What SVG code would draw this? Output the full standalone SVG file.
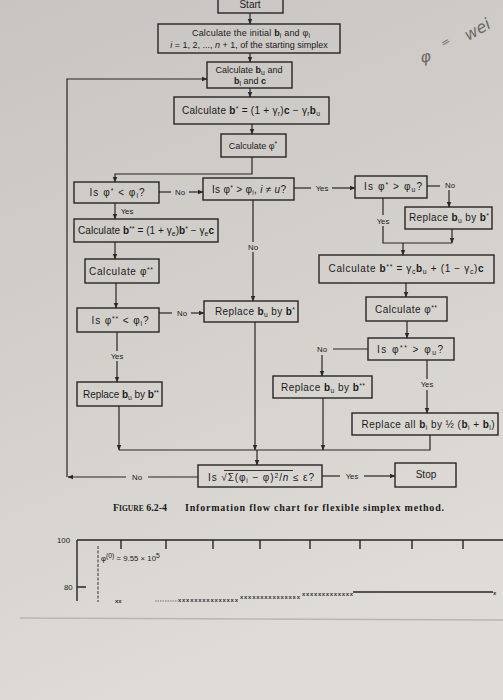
<svg xmlns="http://www.w3.org/2000/svg" width="503" height="700" viewBox="0 0 503 700">
<defs>
<linearGradient id="bg" x1="0" y1="0" x2="0.3" y2="1">
<stop offset="0" stop-color="#c8c4c1"/>
<stop offset="0.5" stop-color="#d3d0cc"/>
<stop offset="1" stop-color="#dfdcd8"/>
</linearGradient>
<marker id="ah" viewBox="0 0 10 10" refX="9" refY="5" markerWidth="6" markerHeight="6" orient="auto" markerUnits="userSpaceOnUse">
<path d="M0,1 L10,5 L0,9 z" fill="#2a2a2a"/>
</marker>
<style>
.box{fill:none;stroke:#262626;stroke-width:1.4}
.ln{fill:none;stroke:#262626;stroke-width:1.2}
.ar{fill:none;stroke:#262626;stroke-width:1.2;marker-end:url(#ah)}
.t{font-family:"Liberation Sans",Arial,sans-serif;font-size:10px;fill:#1a1a1a;text-anchor:middle}
.sm{font-size:9px}
.l{font-family:"Liberation Sans",Arial,sans-serif;font-size:7.8px;fill:#1a1a1a;text-anchor:middle}
.b{font-weight:bold}
.s{font-size:6.8px}
.i{font-style:italic}
.cap{font-family:"Liberation Serif","Times New Roman",serif;font-weight:bold;fill:#1a1a1a}
.ax{fill:none;stroke:#262626;stroke-width:1.4}
.pt{font-family:"Liberation Sans",Arial,sans-serif;font-size:6px;font-weight:bold;fill:#333}
.hw{font-family:"DejaVu Sans",sans-serif;fill:#6b6866;font-style:italic}
</style>
</defs>
<rect x="0" y="0" width="503" height="700" fill="url(#bg)"/>
<line x1="20" y1="618" x2="503" y2="620" stroke="#b9b6b2" stroke-width="1.5"/>

<g id="handwriting">
<text class="hw" x="420" y="62" font-size="16" transform="rotate(-10 427 55)">φ</text>
<text class="hw" x="441" y="45" font-size="11" transform="rotate(-30 447 42)">=</text>
<text class="hw" x="462" y="34" font-size="16" transform="rotate(-30 478 26)">wei</text>
</g>

<g id="connectors">
<path class="ar" d="M250 13 V24"/>
<path class="ar" d="M250 53 V62"/>
<path class="ar" d="M250 88 V97"/>
<path class="ar" d="M252 124 V134"/>
<path class="ar" d="M252 157 V174 H115 V182"/>
<path class="ln" d="M159 192 H171"/>
<path class="ar" d="M189 192 H203"/>
<path class="ln" d="M294 188 H311"/>
<path class="ar" d="M332 188 H355"/>
<path class="ln" d="M427 186 H440"/>
<path class="ar" d="M449 190 V207"/>
<path class="ln" d="M383 198 V215"/>
<path class="ln" d="M383 226 V243 H452"/>
<path class="ar" d="M452 229 V243"/>
<path class="ar" d="M403 243 V255"/>
<path class="ln" d="M253 200 V242"/>
<path class="ar" d="M253 252 V301"/>
<path class="ar" d="M115 203 V219"/>
<path class="ar" d="M115 242 V259"/>
<path class="ar" d="M116 283 V308"/>
<path class="ln" d="M159 313 H172"/>
<path class="ar" d="M191 313 H204"/>
<path class="ln" d="M117 332 V351"/>
<path class="ar" d="M117 361 V382"/>
<path class="ar" d="M119 406 V450"/>
<path class="ar" d="M255 322 V450"/>
<path class="ar" d="M323 398 V450"/>
<path class="ln" d="M430 435 V450 H119"/>
<path class="ar" d="M257 450 V465"/>
<path class="ar" d="M406 283 V297"/>
<path class="ar" d="M407 321 V338"/>
<path class="ln" d="M368 349 H333"/>
<path class="ar" d="M322 355 V376"/>
<path class="ln" d="M427 360 V379"/>
<path class="ar" d="M427 390 V413"/>
<path class="ln" d="M198 477 H148"/>
<path class="ar" d="M126 477 H68"/>
<path class="ar" d="M67 477 V79 H207"/>
<path class="ln" d="M322 476 H340"/>
<path class="ar" d="M364 476 H395"/>
<text class="l" x="180" y="195">No</text>
<text class="l" x="322" y="191">Yes</text>
<text class="l" x="450" y="188">No</text>
<text class="l" x="383" y="224">Yes</text>
<text class="l" x="253" y="250">No</text>
<text class="l" x="127" y="214">Yes</text>
<text class="l" x="182" y="316">No</text>
<text class="l" x="117" y="359">Yes</text>
<text class="l" x="322" y="352">No</text>
<text class="l" x="427" y="387">Yes</text>
<text class="l" x="137" y="480">No</text>
<text class="l" x="352" y="479">Yes</text>
</g>

<g id="n_start">
<rect class="box" x="218" y="-4" width="65" height="17"/>
<text class="t" x="250" y="8">Start</text>
</g>
<g id="n_init">
<rect class="box" x="158" y="24" width="182" height="29"/>
<text class="t sm" x="251" y="36" textLength="118">Calculate the initial <tspan class="b">b</tspan><tspan class="s" dy="2">i</tspan><tspan dy="-2"> and φ</tspan><tspan class="s" dy="2">i</tspan></text>
<text class="t sm" x="249" y="48"><tspan class="i">i</tspan> = 1, 2, ..., <tspan class="i">n</tspan> + 1, of the starting simplex</text>
</g>
<g id="n_bu">
<rect class="box" x="207" y="62" width="85" height="26"/>
<text class="t sm" x="249" y="73">Calculate <tspan class="b">b</tspan><tspan class="s" dy="2">u</tspan><tspan dy="-2"> and</tspan></text>
<text class="t sm" x="250" y="84"><tspan class="b">b</tspan><tspan class="s" dy="2">l</tspan><tspan dy="-2"> and </tspan><tspan class="b">c</tspan></text>
</g>
<g id="n_bstar">
<rect class="box" x="174" y="97" width="155" height="27"/>
<text class="t" x="251" y="114" textLength="138">Calculate <tspan class="b">b</tspan><tspan class="s" dy="-3">*</tspan><tspan dy="3"> = (1 + γ</tspan><tspan class="s" dy="2">r</tspan><tspan dy="-2">)</tspan><tspan class="b">c</tspan><tspan> − γ</tspan><tspan class="s" dy="2">r</tspan><tspan class="b" dy="-2">b</tspan><tspan class="s" dy="2">u</tspan></text>
</g>
<g id="n_phistar">
<rect class="box" x="221" y="134" width="65" height="23"/>
<text class="t sm" x="253" y="149">Calculate φ<tspan class="s" dy="-3">*</tspan></text>
</g>
<g id="n_q1">
<rect class="box" x="74" y="182" width="85" height="21"/>
<text class="t" x="117" y="196" textLength="55">Is φ<tspan class="s" dy="-3">*</tspan><tspan dy="3"> &lt; φ</tspan><tspan class="s" dy="2">l</tspan><tspan dy="-2">?</tspan></text>
</g>
<g id="n_q2">
<rect class="box" x="203" y="178" width="91" height="22"/>
<text class="t" x="249" y="193" textLength="74">Is φ<tspan class="s" dy="-3">*</tspan><tspan dy="3"> &gt; φ</tspan><tspan class="s" dy="2">i</tspan><tspan dy="-2">, </tspan><tspan class="i">i</tspan> ≠ <tspan class="i">u</tspan>?</text>
</g>
<g id="n_q3">
<rect class="box" x="355" y="176" width="72" height="22"/>
<text class="t" x="393" y="190" textLength="58">Is φ<tspan class="s" dy="-3">*</tspan><tspan dy="3"> &gt; φ</tspan><tspan class="s" dy="2">u</tspan><tspan dy="-2">?</tspan></text>
</g>
<g id="n_rep1">
<rect class="box" x="405" y="207" width="87" height="22"/>
<text class="t" x="449" y="221" textLength="80">Replace <tspan class="b">b</tspan><tspan class="s" dy="2">u</tspan><tspan dy="-2"> by </tspan><tspan class="b">b</tspan><tspan class="s" dy="-3">*</tspan></text>
</g>
<g id="n_bexp">
<rect class="box" x="74" y="219" width="144" height="23"/>
<text class="t" x="146" y="234" textLength="136">Calculate <tspan class="b">b</tspan><tspan class="s" dy="-3">**</tspan><tspan dy="3"> = (1 + γ</tspan><tspan class="s" dy="2">e</tspan><tspan dy="-2">)</tspan><tspan class="b">b</tspan><tspan class="s" dy="-3">*</tspan><tspan dy="3"> − γ</tspan><tspan class="s" dy="2">e</tspan><tspan class="b" dy="-2">c</tspan></text>
</g>
<g id="n_bcon">
<rect class="box" x="319" y="255" width="175" height="28"/>
<text class="t" x="406" y="272" textLength="155">Calculate <tspan class="b">b</tspan><tspan class="s" dy="-3">**</tspan><tspan dy="3"> = γ</tspan><tspan class="s" dy="2">c</tspan><tspan class="b" dy="-2">b</tspan><tspan class="s" dy="2">u</tspan><tspan dy="-2"> + (1 − γ</tspan><tspan class="s" dy="2">c</tspan><tspan dy="-2">)</tspan><tspan class="b">c</tspan></text>
</g>
<g id="n_phi2l">
<rect class="box" x="85" y="259" width="74" height="24"/>
<text class="t" x="121" y="275" textLength="64">Calculate φ<tspan class="s" dy="-3">**</tspan></text>
</g>
<g id="n_phi2r">
<rect class="box" x="366" y="297" width="81" height="24"/>
<text class="t" x="406" y="313" textLength="62">Calculate φ<tspan class="s" dy="-3">**</tspan></text>
</g>
<g id="n_q4">
<rect class="box" x="77" y="308" width="82" height="24"/>
<text class="t" x="120" y="324" textLength="57">Is φ<tspan class="s" dy="-3">**</tspan><tspan dy="3"> &lt; φ</tspan><tspan class="s" dy="2">l</tspan><tspan dy="-2">?</tspan></text>
</g>
<g id="n_rep2">
<rect class="box" x="204" y="301" width="94" height="21"/>
<text class="t" x="255" y="315" textLength="80">Replace <tspan class="b">b</tspan><tspan class="s" dy="2">u</tspan><tspan dy="-2"> by </tspan><tspan class="b">b</tspan><tspan class="s" dy="-3">*</tspan></text>
</g>
<g id="n_q5">
<rect class="box" x="368" y="338" width="86" height="22"/>
<text class="t" x="410" y="353" textLength="66">Is φ<tspan class="s" dy="-3">**</tspan><tspan dy="3"> &gt; φ</tspan><tspan class="s" dy="2">u</tspan><tspan dy="-2">?</tspan></text>
</g>
<g id="n_rep3">
<rect class="box" x="77" y="382" width="85" height="24"/>
<text class="t" x="121" y="398" textLength="76">Replace <tspan class="b">b</tspan><tspan class="s" dy="2">u</tspan><tspan dy="-2"> by </tspan><tspan class="b">b</tspan><tspan class="s" dy="-3">**</tspan></text>
</g>
<g id="n_rep4">
<rect class="box" x="273" y="376" width="99" height="22"/>
<text class="t" x="323" y="391" textLength="84">Replace <tspan class="b">b</tspan><tspan class="s" dy="2">u</tspan><tspan dy="-2"> by </tspan><tspan class="b">b</tspan><tspan class="s" dy="-3">**</tspan></text>
</g>
<g id="n_shrink">
<rect class="box" x="352" y="413" width="146" height="22"/>
<text class="t" x="428" y="428" textLength="133">Replace all <tspan class="b">b</tspan><tspan class="s" dy="2">i</tspan><tspan dy="-2"> by ½ (</tspan><tspan class="b">b</tspan><tspan class="s" dy="2">i</tspan><tspan dy="-2"> + </tspan><tspan class="b">b</tspan><tspan class="s" dy="2">l</tspan><tspan dy="-2">)</tspan></text>
</g>
<g id="n_conv">
<rect class="box" x="198" y="465" width="124" height="22"/>
<text class="t" x="261" y="481" textLength="106">Is √Σ(φ<tspan class="s" dy="2">i</tspan><tspan dy="-2"> − φ)</tspan><tspan class="s" dy="-3">2</tspan><tspan dy="3">/</tspan><tspan class="i">n</tspan> ≤ ε?</text>
<line x1="224" y1="470.5" x2="293" y2="470.5" stroke="#222" stroke-width="0.9"/>
</g>
<g id="n_stop">
<rect class="box" x="395" y="463" width="61" height="24"/>
<text class="t" x="426" y="478">Stop</text>
</g>

<g id="caption">
<text class="cap" x="113" y="511" font-size="10">F<tspan font-size="7.5">IGURE</tspan> 6.2-4</text>
<text class="cap" x="185" y="511" font-size="10" textLength="259">Information flow chart for flexible simplex method.</text>
</g>

<g id="graph">
<path class="ax" d="M77 540 H503 M77 540 V601 M77 587 H86"/>
<path class="ax" d="M121 540 V549 M166 540 V549 M213 540 V549 M260 540 V549 M310 540 V549 M360 540 V549 M412 540 V549 M463 540 V549"/>
<line x1="98" y1="546" x2="98" y2="602" stroke="#333" stroke-width="1" stroke-dasharray="3,1.5"/>
<text class="l" x="57" y="543" style="text-anchor:start">100</text>
<text class="l" x="64" y="590" style="text-anchor:start">80</text>
<text class="l" x="101" y="561" style="text-anchor:start">φ<tspan class="s" dy="-3">(0)</tspan><tspan dy="3"> = 9.55 × 10</tspan><tspan class="s" dy="-3">5</tspan></text>
<text class="pt" x="115" y="603">xx</text>
<line x1="155" y1="601" x2="178" y2="601" stroke="#555" stroke-width="0.8" stroke-dasharray="1.5,1"/>
<text class="pt" x="178" y="602" textLength="60">xxxxxxxxxxxxxxx</text>
<text class="pt" x="240" y="599" textLength="60">xxxxxxxxxxxxxxx</text>
<text class="pt" x="302" y="596" textLength="51">xxxxxxxxxxxxx</text>
<line x1="353" y1="592" x2="493" y2="592" stroke="#262626" stroke-width="1.3"/>
<text class="pt" x="493" y="595">x</text>
</g>
</svg>
